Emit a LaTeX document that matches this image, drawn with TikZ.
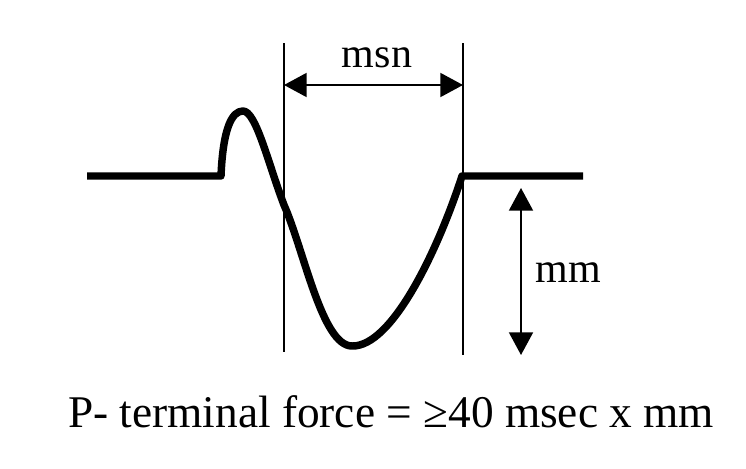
\documentclass[tikz,border=0pt]{standalone}
\usepackage{fontspec}
\setmainfont{Liberation Serif}
\usetikzlibrary{arrows.meta,positioning,calc}
\tikzset{every picture/.style={line width=1.4pt}}
\tikzset{
    trace/.style={line width=5.6pt, line join=round},
    guide/.style={line width=1.4pt},
    dimarrow/.style={line width=1.4pt, {Triangle[length=17pt,width=18pt]}-{Triangle[length=17pt,width=18pt]}},
    lbl/.style={font=\fontsize{31.5}{36}\selectfont, inner sep=0pt},
}

\begin{document}
\begin{tikzpicture}[x=0.75pt,y=-0.75pt]
    \useasboundingbox (0,0) rectangle (746,468);
    % waveform
    \coordinate (start) at (87,176);
    \coordinate (rise) at (221,176);
    \coordinate (peak) at (243,111);
    \coordinate (cross) at (284,205);
    \coordinate (trough) at (352,346);
    \coordinate (back) at (462,176);
    \coordinate (stop) at (583,176);
    \draw[trace] (start) -- (rise)
        .. controls (223,128) and (232,111) .. (peak)
        .. controls (256,111) and (268,163) .. (cross)
        .. controls (304,250) and (322,346) .. (trough)
        .. controls (392,347) and (438,250) .. (back) -- (stop);
    % guides
    \coordinate (ltop) at (284,43);
    \coordinate (lbot) at (284,352);
    \coordinate (rtop) at (463,43);
    \coordinate (rbot) at (463,355);
    \draw[guide] (ltop) -- (lbot);
    \draw[guide] (rtop) -- (rbot);
    % duration
    \coordinate (msnl) at (284,85);
    \coordinate (msnr) at (463,85);
    \draw[dimarrow] (msnl) -- (msnr);
    \node[lbl, anchor=base] (msn) at (377,67) {msn};
    % depth
    \coordinate (mmt) at (521,188);
    \coordinate (mmb) at (521,355);
    \draw[dimarrow] (mmt) -- (mmb);
    \node[lbl, anchor=base west] (mm) at (535,282) {mm};
    % caption
    \node[font=\fontsize{34}{40}\selectfont, inner sep=0pt, anchor=base] (cap) at (391,427)
        {P- terminal force = ≥40 msec x mm};
\end{tikzpicture}
\end{document}
